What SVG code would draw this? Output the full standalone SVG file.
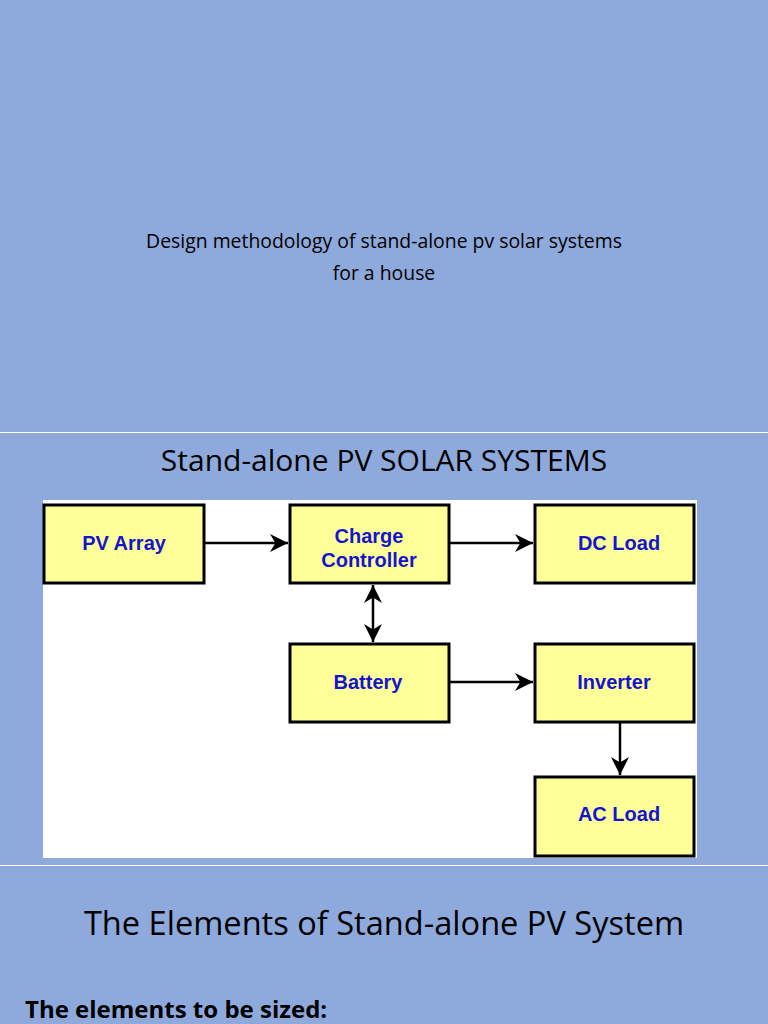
<svg xmlns="http://www.w3.org/2000/svg" width="768" height="1024" viewBox="0 0 768 1024">
<style>
.b{fill:#FFFF99;stroke:#000;stroke-width:3}
.l{font-family:"Liberation Sans",Arial,sans-serif;font-weight:bold;font-size:20px;fill:#1515D0;text-anchor:middle}
.c{stroke:#000;stroke-width:2.5;fill:none}
.t{font-family:"Open Sans","Noto Sans",sans-serif;fill:#000;text-anchor:middle}
</style>
<defs>
<marker id="m" viewBox="0 0 10 10" refX="10" refY="5" markerWidth="20" markerHeight="18" orient="auto-start-reverse" markerUnits="userSpaceOnUse"><path d="M0,0 L10,5 L0,10 L3,5 Z" fill="#000"/></marker></defs>
<rect width="768" height="1024" fill="#8EA9DB"/>
<line x1="0" y1="432.5" x2="768" y2="432.5" stroke="#fff" stroke-width="1"/>
<line x1="0" y1="865.5" x2="768" y2="865.5" stroke="#fff" stroke-width="1"/>
<text class="t" x="384" y="248" font-size="19.4">Design methodology of stand-alone pv solar systems</text>
<text class="t" x="384" y="280" font-size="19.4">for a house</text>
<text class="t" x="384" y="471" font-size="30">Stand-alone PV SOLAR SYSTEMS</text>
<text class="t" x="384" y="935" font-size="32.6">The Elements of Stand-alone PV System</text>
<text x="25" y="1018" font-family="Open Sans,Noto Sans,sans-serif" font-weight="bold" font-size="24">The elements to be sized:</text>
<rect x="43" y="500" width="654" height="358" fill="#fff"/>
<g id="connectors">
<line class="c" x1="204" y1="543" x2="288" y2="543" marker-end="url(#m)"/>
<line class="c" x1="449" y1="543" x2="533" y2="543" marker-end="url(#m)"/>
<line class="c" x1="373" y1="585" x2="373" y2="642" marker-start="url(#m)" marker-end="url(#m)"/>
<line class="c" x1="449" y1="682" x2="533" y2="682" marker-end="url(#m)"/>
<line class="c" x1="620" y1="722" x2="620" y2="775" marker-end="url(#m)"/>
</g>
<g id="pv"><rect class="b" x="44" y="505" width="160" height="78"/><text class="l" x="124" y="550">PV Array</text></g>
<g id="cc"><rect class="b" x="290" y="505" width="159" height="78"/><text class="l" x="369" y="543">Charge</text><text class="l" x="369" y="567">Controller</text></g>
<g id="dc"><rect class="b" x="535" y="505" width="159" height="78"/><text class="l" x="619" y="550">DC Load</text></g>
<g id="bat"><rect class="b" x="290" y="644" width="159" height="78"/><text class="l" x="368" y="689">Battery</text></g>
<g id="inv"><rect class="b" x="535" y="644" width="159" height="78"/><text class="l" x="614" y="689">Inverter</text></g>
<g id="ac"><rect class="b" x="535" y="777" width="159" height="79"/><text class="l" x="619" y="821">AC Load</text></g>
</svg>
